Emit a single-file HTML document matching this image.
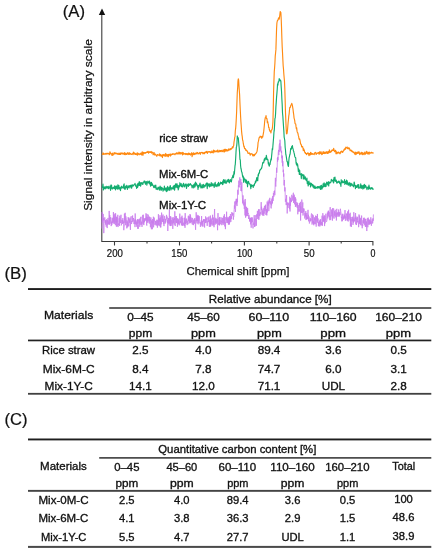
<!DOCTYPE html>
<html><head><meta charset="utf-8"><title>NMR spectra and tables</title>
<style>
html,body{margin:0;padding:0;background:#fff;}
body{width:436px;height:550px;overflow:hidden;}
svg{display:block;}
text{font-family:'Liberation Sans', sans-serif;fill:#111;stroke:#111;stroke-width:0.33px;}
</style></head><body>
<svg width="436" height="550" viewBox="0 0 436 550">
<text x="62.72" y="17.3" font-size="16" textLength="22.25" lengthAdjust="spacingAndGlyphs" style="stroke-width:0.2px">(A)</text>
<g transform="translate(92.4,0) rotate(-90)">
<text x="-210.86" y="0" font-size="11.7" textLength="171.67" lengthAdjust="spacingAndGlyphs" style="stroke-width:0.25px">Signal intensity in arbitrary scale</text>
</g>
<path d="M101.8,14 V241.5 H372.9 V245.5" fill="none" stroke="#3c3c3c" stroke-width="1.1"/>
<path d="M98.8,15 L102,8.6 L105.2,15 Z" fill="#111"/>
<path d="M114.5,241.5 V245.6 M179.5,241.5 V245.6 M244.4,241.5 V245.6 M309.1,241.5 V245.6 M147.0,241.5 V243.5 M211.6,241.5 V243.5 M276.8,241.5 V243.5 M341.2,241.5 V243.5 " stroke="#3c3c3c" stroke-width="1.1"/>
<text x="106.84" y="256.9" font-size="10.6" textLength="16.09" lengthAdjust="spacingAndGlyphs" style="stroke-width:0.2px">200</text>
<text x="171.35" y="256.9" font-size="10.6" textLength="15.98" lengthAdjust="spacingAndGlyphs" style="stroke-width:0.2px">150</text>
<text x="236.97" y="256.9" font-size="10.6" textLength="15.44" lengthAdjust="spacingAndGlyphs" style="stroke-width:0.2px">100</text>
<text x="303.83" y="256.9" font-size="10.6" textLength="10.80" lengthAdjust="spacingAndGlyphs" style="stroke-width:0.2px">50</text>
<text x="370.45" y="256.9" font-size="10.6" textLength="4.95" lengthAdjust="spacingAndGlyphs" style="stroke-width:0.2px">0</text>
<text x="186.45" y="275" font-size="11.3" textLength="102.90" lengthAdjust="spacingAndGlyphs" style="stroke-width:0.25px">Chemical shift [ppm]</text>
<polyline points="102.00,228.55 102.20,212.00 102.40,222.70 102.60,219.15 102.80,219.56 103.00,220.41 103.20,213.91 103.40,220.34 103.60,218.06 103.80,233.13 104.00,221.98 104.20,219.90 104.40,220.15 104.60,218.75 104.80,217.36 105.00,219.75 105.20,222.89 105.40,220.29 105.60,224.59 105.80,220.42 106.00,221.23 106.20,226.70 106.40,223.09 106.60,219.31 106.80,220.47 107.00,223.07 107.20,228.09 107.40,220.15 107.60,220.24 107.80,224.72 108.00,217.92 108.20,220.05 108.40,224.28 108.60,223.19 108.80,221.43 109.00,223.51 109.20,210.91 109.40,224.76 109.60,217.63 109.80,215.07 110.00,222.07 110.20,223.60 110.40,219.47 110.60,217.20 110.80,221.16 111.00,220.88 111.20,226.12 111.40,223.75 111.60,221.76 111.80,225.06 112.00,220.31 112.20,217.72 112.40,223.15 112.60,223.14 112.80,220.27 113.00,218.22 113.20,221.86 113.40,212.06 113.60,223.52 113.80,222.80 114.00,215.13 114.20,221.25 114.40,217.56 114.60,223.75 114.80,213.70 115.00,217.73 115.20,223.58 115.40,225.18 115.60,213.25 115.80,219.22 116.00,222.20 116.20,218.82 116.40,226.74 116.60,216.72 116.80,222.29 117.00,217.23 117.20,226.07 117.40,220.93 117.60,219.67 117.80,214.82 118.00,227.06 118.20,223.71 118.40,223.72 118.60,225.10 118.80,222.26 119.00,218.70 119.20,218.12 119.40,218.12 119.60,225.93 119.80,215.74 120.00,218.85 120.20,219.84 120.40,221.81 120.60,223.07 120.80,216.50 121.00,214.77 121.20,220.98 121.40,225.37 121.60,223.73 121.80,221.78 122.00,219.86 122.20,222.06 122.40,220.12 122.60,223.94 122.80,218.14 123.00,221.48 123.20,220.60 123.40,222.96 123.60,221.81 123.80,230.18 124.00,226.40 124.20,226.39 124.40,213.66 124.60,219.77 124.80,218.81 125.00,222.92 125.20,212.80 125.40,225.23 125.60,224.84 125.80,216.31 126.00,217.48 126.20,218.12 126.40,221.16 126.60,223.31 126.80,228.37 127.00,220.29 127.20,223.76 127.40,221.56 127.60,227.34 127.80,223.67 128.00,225.93 128.20,217.12 128.40,220.31 128.60,218.07 128.80,226.42 129.00,223.37 129.20,219.90 129.40,219.37 129.60,222.74 129.80,218.47 130.00,217.65 130.20,222.73 130.40,229.87 130.60,220.11 130.80,219.00 131.00,216.78 131.20,216.19 131.40,222.89 131.60,224.06 131.80,221.03 132.00,222.20 132.20,221.42 132.40,221.50 132.60,215.51 132.80,219.35 133.00,221.40 133.20,218.18 133.40,219.28 133.60,218.05 133.80,219.80 134.00,224.07 134.20,219.54 134.40,220.45 134.60,223.93 134.80,223.32 135.00,227.10 135.20,213.47 135.40,224.08 135.60,219.26 135.80,221.48 136.00,224.02 136.20,224.90 136.40,224.74 136.60,221.56 136.80,226.79 137.00,219.98 137.20,220.49 137.40,223.88 137.60,219.02 137.80,228.78 138.00,224.67 138.20,228.83 138.40,220.90 138.60,219.62 138.80,221.60 139.00,223.64 139.20,218.89 139.40,222.37 139.60,220.94 139.80,226.82 140.00,218.61 140.20,224.77 140.40,218.68 140.60,217.54 140.80,218.44 141.00,216.72 141.20,221.53 141.40,224.71 141.60,221.59 141.80,223.25 142.00,226.88 142.20,221.97 142.40,221.70 142.60,220.01 142.80,215.21 143.00,223.74 143.20,214.68 143.40,223.35 143.60,220.95 143.80,225.06 144.00,220.76 144.20,218.04 144.40,222.29 144.60,218.98 144.80,220.35 145.00,221.15 145.20,220.52 145.40,220.32 145.60,218.00 145.80,220.32 146.00,213.30 146.20,220.43 146.40,216.69 146.60,225.03 146.80,225.57 147.00,213.98 147.20,221.52 147.40,220.55 147.60,217.23 147.80,222.91 148.00,219.34 148.20,214.64 148.40,220.04 148.60,220.47 148.80,221.38 149.00,216.57 149.20,223.22 149.40,223.65 149.60,216.88 149.80,218.63 150.00,220.71 150.20,218.96 150.40,227.28 150.60,221.75 150.80,217.36 151.00,218.16 151.20,220.79 151.40,229.26 151.60,220.35 151.80,221.45 152.00,222.84 152.20,220.84 152.40,229.19 152.60,219.06 152.80,223.65 153.00,221.55 153.20,223.20 153.40,216.73 153.60,227.32 153.80,220.52 154.00,221.07 154.20,217.58 154.40,218.31 154.60,222.96 154.80,224.48 155.00,223.63 155.20,225.27 155.40,223.48 155.60,221.01 155.80,223.91 156.00,223.03 156.20,220.52 156.40,223.49 156.60,225.50 156.80,221.71 157.00,219.58 157.20,223.44 157.40,227.69 157.60,220.08 157.80,220.50 158.00,220.33 158.20,225.22 158.40,214.20 158.60,222.12 158.80,225.09 159.00,217.86 159.20,226.14 159.40,222.70 159.60,218.79 159.80,221.49 160.00,215.23 160.20,218.71 160.40,227.31 160.60,217.51 160.80,227.36 161.00,220.42 161.20,224.29 161.40,220.86 161.60,212.62 161.80,218.62 162.00,221.36 162.20,216.53 162.40,215.81 162.60,221.97 162.80,218.31 163.00,214.54 163.20,218.17 163.40,223.73 163.60,218.92 163.80,223.98 164.00,226.11 164.20,220.72 164.40,216.53 164.60,215.90 164.80,220.49 165.00,223.75 165.20,221.54 165.40,222.54 165.60,218.97 165.80,221.64 166.00,218.86 166.20,219.38 166.40,215.89 166.60,214.88 166.80,218.80 167.00,216.54 167.20,217.08 167.40,222.94 167.60,220.13 167.80,231.01 168.00,223.85 168.20,218.23 168.40,223.31 168.60,221.79 168.80,218.04 169.00,224.47 169.20,217.71 169.40,209.49 169.60,223.36 169.80,218.28 170.00,225.85 170.20,218.16 170.40,216.25 170.60,226.07 170.80,216.63 171.00,221.23 171.20,225.72 171.40,220.91 171.60,220.21 171.80,220.87 172.00,223.52 172.20,217.60 172.40,222.70 172.60,222.58 172.80,228.90 173.00,219.29 173.20,217.21 173.40,223.15 173.60,219.07 173.80,221.54 174.00,220.98 174.20,224.71 174.40,218.14 174.60,220.17 174.80,211.31 175.00,217.30 175.20,226.03 175.40,218.05 175.60,217.97 175.80,216.12 176.00,222.59 176.20,221.14 176.40,216.23 176.60,222.90 176.80,221.44 177.00,223.21 177.20,218.19 177.40,226.76 177.60,221.98 177.80,220.08 178.00,218.63 178.20,219.62 178.40,223.59 178.60,219.53 178.80,224.38 179.00,222.59 179.20,225.35 179.40,223.43 179.60,220.27 179.80,213.63 180.00,221.57 180.20,223.34 180.40,221.09 180.60,222.50 180.80,218.80 181.00,219.13 181.20,217.11 181.40,225.40 181.60,221.07 181.80,218.73 182.00,215.71 182.20,219.95 182.40,225.69 182.60,222.16 182.80,217.89 183.00,225.65 183.20,225.64 183.40,224.03 183.60,223.34 183.80,224.66 184.00,222.46 184.20,223.29 184.40,217.69 184.60,225.90 184.80,221.33 185.00,227.79 185.20,213.15 185.40,223.04 185.60,224.03 185.80,219.27 186.00,222.13 186.20,223.19 186.40,222.58 186.60,218.56 186.80,219.99 187.00,224.17 187.20,225.10 187.40,220.86 187.60,220.78 187.80,221.22 188.00,224.24 188.20,216.71 188.40,215.72 188.60,220.95 188.80,216.52 189.00,218.39 189.20,220.81 189.40,222.24 189.60,216.64 189.80,223.39 190.00,214.11 190.20,222.46 190.40,214.82 190.60,215.91 190.80,222.81 191.00,219.04 191.20,217.64 191.40,218.90 191.60,222.17 191.80,220.31 192.00,220.39 192.20,224.30 192.40,217.92 192.60,218.80 192.80,218.62 193.00,224.71 193.20,224.07 193.40,225.13 193.60,220.38 193.80,219.94 194.00,223.57 194.20,219.08 194.40,223.49 194.60,223.11 194.80,217.99 195.00,220.20 195.20,220.07 195.40,226.74 195.60,229.82 195.80,220.14 196.00,220.55 196.20,212.29 196.40,221.26 196.60,220.47 196.80,216.64 197.00,223.33 197.20,214.86 197.40,219.73 197.60,221.00 197.80,216.00 198.00,223.58 198.20,224.30 198.40,215.51 198.60,215.43 198.80,222.67 199.00,220.39 199.20,216.14 199.40,219.44 199.60,220.11 199.80,219.99 200.00,223.48 200.20,221.88 200.40,226.87 200.60,225.45 200.80,222.95 201.00,224.38 201.20,225.27 201.40,223.05 201.60,216.10 201.80,223.61 202.00,220.78 202.20,226.36 202.40,220.87 202.60,222.43 202.80,221.73 203.00,226.60 203.20,221.20 203.40,219.60 203.60,221.69 203.80,219.00 204.00,221.17 204.20,220.57 204.40,221.58 204.60,227.54 204.80,219.16 205.00,220.76 205.20,219.92 205.40,223.07 205.60,216.40 205.80,218.17 206.00,220.53 206.20,222.65 206.40,220.53 206.60,218.90 206.80,217.59 207.00,222.57 207.20,225.93 207.40,221.91 207.60,221.43 207.80,222.36 208.00,217.38 208.20,219.66 208.40,219.83 208.60,221.87 208.80,220.70 209.00,216.44 209.20,224.88 209.40,226.94 209.60,219.90 209.80,222.30 210.00,221.83 210.20,223.70 210.40,215.56 210.60,226.70 210.80,219.22 211.00,225.46 211.20,221.21 211.40,219.53 211.60,220.43 211.80,224.17 212.00,217.84 212.20,219.60 212.40,219.22 212.60,214.79 212.80,225.65 213.00,223.06 213.20,220.90 213.40,225.17 213.60,217.54 213.80,220.73 214.00,227.21 214.20,224.52 214.40,212.99 214.60,209.00 214.80,217.26 215.00,224.82 215.20,219.30 215.40,220.22 215.60,223.19 215.80,217.81 216.00,221.76 216.20,223.84 216.40,222.67 216.60,222.41 216.80,218.82 217.00,222.83 217.20,219.43 217.40,225.67 217.60,230.22 217.80,218.29 218.00,213.12 218.20,219.41 218.40,222.30 218.60,224.71 218.80,224.81 219.00,218.09 219.20,218.05 219.40,225.46 219.60,216.96 219.80,224.80 220.00,220.05 220.20,223.62 220.40,223.39 220.60,223.63 220.80,223.78 221.00,217.25 221.20,221.87 221.40,220.84 221.60,221.89 221.80,225.20 222.00,219.77 222.20,218.17 222.40,218.10 222.60,219.59 222.80,223.40 223.00,217.74 223.20,224.83 223.40,221.69 223.60,219.81 223.80,215.81 224.00,221.47 224.20,223.06 224.40,214.20 224.60,224.83 224.80,226.45 225.00,221.72 225.20,222.25 225.40,229.14 225.60,224.86 225.80,217.16 226.00,220.29 226.20,219.74 226.40,219.72 226.60,211.70 226.80,222.88 227.00,217.81 227.20,220.62 227.40,219.48 227.60,223.03 227.80,218.75 228.00,216.87 228.20,221.57 228.40,224.62 228.60,218.32 228.80,224.30 229.00,220.21 229.20,217.24 229.40,224.54 229.60,215.99 229.80,222.46 230.00,216.89 230.20,220.18 230.40,213.98 230.60,215.27 230.80,221.98 231.00,218.68 231.20,217.97 231.40,216.03 231.60,218.97 231.80,212.04 232.00,212.72 232.20,215.82 232.40,213.00 232.60,213.06 232.80,214.88 233.00,214.17 233.20,213.37 233.40,219.65 233.60,216.76 233.80,216.99 234.00,211.90 234.20,209.56 234.40,205.43 234.60,208.62 234.80,201.50 235.00,205.98 235.20,209.85 235.40,211.90 235.60,208.48 235.80,200.81 236.00,204.57 236.20,198.84 236.40,203.52 236.60,199.02 236.80,201.25 237.00,206.05 237.20,198.65 237.40,202.25 237.60,193.02 237.80,189.78 238.00,194.44 238.20,194.65 238.40,185.43 238.60,186.87 238.80,180.61 239.00,184.24 239.20,187.38 239.40,183.17 239.60,180.83 239.80,177.35 240.00,183.43 240.20,184.87 240.40,184.34 240.60,183.66 240.80,178.99 241.00,190.99 241.20,185.68 241.40,186.70 241.60,191.26 241.80,182.21 242.00,191.45 242.20,193.34 242.40,197.55 242.60,203.38 242.80,202.25 243.00,195.40 243.20,201.81 243.40,204.71 243.60,205.35 243.80,200.98 244.00,200.30 244.20,208.91 244.40,208.75 244.60,207.97 244.80,202.33 245.00,215.39 245.20,198.98 245.40,208.49 245.60,217.68 245.80,209.90 246.00,211.61 246.20,206.81 246.40,216.22 246.60,206.95 246.80,212.80 247.00,212.66 247.20,208.70 247.40,216.01 247.60,208.09 247.80,211.15 248.00,213.96 248.20,213.08 248.40,216.78 248.60,218.98 248.80,215.17 249.00,214.86 249.20,215.55 249.40,216.69 249.60,221.51 249.80,218.39 250.00,221.20 250.20,219.94 250.40,217.74 250.60,224.36 250.80,217.94 251.00,222.08 251.20,227.73 251.40,218.71 251.60,222.64 251.80,217.25 252.00,221.17 252.20,217.61 252.40,221.65 252.60,220.94 252.80,223.27 253.00,228.39 253.20,223.57 253.40,224.77 253.60,222.05 253.80,221.16 254.00,218.83 254.20,215.13 254.40,221.63 254.60,227.00 254.80,222.59 255.00,218.69 255.20,226.27 255.40,218.49 255.60,217.53 255.80,215.09 256.00,215.70 256.20,217.97 256.40,225.75 256.60,217.50 256.80,214.23 257.00,215.46 257.20,216.54 257.40,210.88 257.60,217.21 257.80,219.00 258.00,217.36 258.20,218.10 258.40,211.04 258.60,209.33 258.80,219.84 259.00,218.94 259.20,209.25 259.40,215.34 259.60,214.49 259.80,216.16 260.00,214.76 260.20,212.01 260.40,214.33 260.60,214.01 260.80,213.08 261.00,206.41 261.20,202.11 261.40,209.87 261.60,206.65 261.80,213.27 262.00,214.76 262.20,212.95 262.40,210.49 262.60,211.90 262.80,215.67 263.00,208.67 263.20,214.43 263.40,213.48 263.60,211.69 263.80,215.79 264.00,207.80 264.20,213.59 264.40,206.66 264.60,207.05 264.80,205.81 265.00,211.03 265.20,205.84 265.40,209.21 265.60,204.72 265.80,212.44 266.00,215.00 266.20,209.00 266.40,213.90 266.60,209.81 266.80,215.41 267.00,207.78 267.20,201.58 267.40,212.42 267.60,206.42 267.80,202.97 268.00,204.16 268.20,200.49 268.40,205.56 268.60,202.12 268.80,211.13 269.00,207.99 269.20,199.42 269.40,199.76 269.60,202.94 269.80,197.84 270.00,204.14 270.20,204.15 270.40,201.28 270.60,201.83 270.80,205.33 271.00,208.37 271.20,208.34 271.40,202.77 271.60,205.40 271.80,199.32 272.00,203.10 272.20,197.79 272.40,203.47 272.60,195.98 272.80,196.53 273.00,199.46 273.20,200.85 273.40,192.91 273.60,195.29 273.80,196.73 274.00,196.00 274.20,191.01 274.40,193.14 274.60,190.53 274.80,195.19 275.00,190.72 275.20,182.49 275.40,177.83 275.60,184.55 275.80,186.56 276.00,180.75 276.20,180.91 276.40,173.46 276.60,167.69 276.80,172.70 277.00,167.84 277.20,167.57 277.40,157.99 277.60,161.72 277.80,156.91 278.00,160.15 278.20,153.29 278.40,151.41 278.60,149.85 278.80,155.05 279.00,149.38 279.20,145.61 279.40,144.02 279.60,143.37 279.80,151.89 280.00,139.71 280.20,142.97 280.40,148.34 280.60,150.58 280.80,146.35 281.00,150.45 281.20,151.25 281.40,153.04 281.60,150.77 281.80,158.26 282.00,155.30 282.20,162.69 282.40,156.02 282.60,166.23 282.80,161.07 283.00,162.69 283.20,172.20 283.40,169.74 283.60,176.64 283.80,173.47 284.00,185.38 284.20,181.87 284.40,179.94 284.60,186.77 284.80,191.36 285.00,187.38 285.20,194.05 285.40,201.76 285.60,199.79 285.80,198.89 286.00,199.03 286.20,205.12 286.40,199.26 286.60,195.09 286.80,204.49 287.00,203.30 287.20,213.43 287.40,207.53 287.60,203.27 287.80,202.36 288.00,208.03 288.20,202.88 288.40,203.37 288.60,204.73 288.80,204.95 289.00,204.56 289.20,204.22 289.40,208.11 289.60,209.18 289.80,196.71 290.00,211.50 290.20,202.23 290.40,205.76 290.60,198.14 290.80,201.50 291.00,200.65 291.20,199.86 291.40,202.13 291.60,201.01 291.80,194.84 292.00,197.84 292.20,200.74 292.40,200.44 292.60,196.61 292.80,196.68 293.00,197.02 293.20,193.50 293.40,192.75 293.60,202.97 293.80,195.86 294.00,197.61 294.20,194.67 294.40,202.30 294.60,204.34 294.80,197.76 295.00,201.00 295.20,197.07 295.40,206.81 295.60,204.44 295.80,198.70 296.00,206.76 296.20,204.09 296.40,204.84 296.60,205.21 296.80,202.10 297.00,203.14 297.20,207.87 297.40,205.95 297.60,203.17 297.80,214.27 298.00,206.50 298.20,205.48 298.40,205.20 298.60,210.40 298.80,211.61 299.00,209.16 299.20,211.56 299.40,203.18 299.60,207.37 299.80,207.14 300.00,208.98 300.20,210.83 300.40,201.85 300.60,220.55 300.80,206.29 301.00,210.77 301.20,212.62 301.40,212.83 301.60,210.76 301.80,199.55 302.00,206.26 302.20,213.06 302.40,207.18 302.60,206.89 302.80,202.42 303.00,215.52 303.20,213.23 303.40,208.45 303.60,211.49 303.80,211.91 304.00,208.58 304.20,211.95 304.40,214.19 304.60,215.61 304.80,218.52 305.00,214.42 305.20,212.99 305.40,216.44 305.60,213.04 305.80,211.12 306.00,220.04 306.20,214.83 306.40,216.89 306.60,219.03 306.80,212.91 307.00,219.38 307.20,218.85 307.40,217.03 307.60,218.95 307.80,214.95 308.00,209.87 308.20,216.92 308.40,214.79 308.60,221.31 308.80,219.26 309.00,216.51 309.20,218.70 309.40,223.51 309.60,222.83 309.80,220.17 310.00,220.49 310.20,218.03 310.40,218.65 310.60,221.33 310.80,218.87 311.00,220.46 311.20,215.44 311.40,213.53 311.60,213.50 311.80,218.12 312.00,224.56 312.20,224.12 312.40,216.34 312.60,214.41 312.80,222.95 313.00,221.84 313.20,215.33 313.40,224.15 313.60,221.05 313.80,225.26 314.00,221.81 314.20,223.86 314.40,221.89 314.60,217.38 314.80,220.05 315.00,218.52 315.20,224.02 315.40,217.52 315.60,215.65 315.80,223.70 316.00,225.43 316.20,226.58 316.40,225.37 316.60,216.06 316.80,219.04 317.00,219.63 317.20,221.57 317.40,213.95 317.60,221.72 317.80,222.79 318.00,218.41 318.20,222.30 318.40,226.20 318.60,222.10 318.80,225.77 319.00,225.64 319.20,223.48 319.40,223.40 319.60,220.69 319.80,226.51 320.00,220.34 320.20,219.52 320.40,224.55 320.60,219.35 320.80,223.44 321.00,225.64 321.20,222.04 321.40,222.04 321.60,224.85 321.80,224.14 322.00,215.75 322.20,216.44 322.40,225.80 322.60,222.26 322.80,213.19 323.00,215.66 323.20,220.43 323.40,216.64 323.60,221.67 323.80,220.08 324.00,221.37 324.20,215.21 324.40,221.47 324.60,226.09 324.80,215.99 325.00,223.40 325.20,222.02 325.40,220.62 325.60,217.89 325.80,213.77 326.00,214.63 326.20,220.38 326.40,221.01 326.60,221.74 326.80,220.66 327.00,220.34 327.20,215.40 327.40,212.49 327.60,217.45 327.80,218.39 328.00,216.77 328.20,210.86 328.40,214.33 328.60,210.75 328.80,216.46 329.00,212.02 329.20,215.06 329.40,216.69 329.60,215.89 329.80,220.19 330.00,211.16 330.20,207.14 330.40,218.28 330.60,219.80 330.80,219.78 331.00,215.53 331.20,216.33 331.40,214.72 331.60,209.50 331.80,212.00 332.00,215.74 332.20,211.78 332.40,220.63 332.60,208.13 332.80,212.03 333.00,217.51 333.20,211.25 333.40,209.30 333.60,208.42 333.80,210.65 334.00,218.65 334.20,214.65 334.40,215.01 334.60,211.26 334.80,216.16 335.00,213.50 335.20,209.80 335.40,211.50 335.60,213.87 335.80,217.37 336.00,212.96 336.20,215.00 336.40,220.50 336.60,210.38 336.80,208.82 337.00,216.87 337.20,214.95 337.40,213.06 337.60,214.41 337.80,212.33 338.00,215.43 338.20,212.42 338.40,216.56 338.60,209.53 338.80,210.87 339.00,214.29 339.20,212.25 339.40,216.51 339.60,213.93 339.80,212.20 340.00,214.98 340.20,212.40 340.40,208.77 340.60,210.37 340.80,211.65 341.00,212.92 341.20,215.05 341.40,218.06 341.60,216.85 341.80,221.35 342.00,219.62 342.20,214.43 342.40,221.13 342.60,219.52 342.80,213.72 343.00,216.55 343.20,219.45 343.40,216.46 343.60,219.33 343.80,217.17 344.00,218.35 344.20,214.75 344.40,217.33 344.60,214.72 344.80,218.54 345.00,210.09 345.20,217.44 345.40,220.80 345.60,218.46 345.80,216.35 346.00,218.45 346.20,213.53 346.40,213.65 346.60,215.43 346.80,216.26 347.00,220.34 347.20,213.72 347.40,220.62 347.60,211.43 347.80,214.33 348.00,217.11 348.20,221.48 348.40,215.18 348.60,209.75 348.80,219.06 349.00,217.52 349.20,213.80 349.40,214.02 349.60,215.35 349.80,218.28 350.00,220.39 350.20,212.76 350.40,226.39 350.60,218.09 350.80,216.96 351.00,220.80 351.20,218.84 351.40,226.93 351.60,222.54 351.80,217.34 352.00,217.33 352.20,217.01 352.40,217.64 352.60,221.36 352.80,216.68 353.00,224.88 353.20,218.84 353.40,218.68 353.60,222.68 353.80,212.20 354.00,216.01 354.20,221.59 354.40,219.54 354.60,219.51 354.80,221.03 355.00,217.49 355.20,219.09 355.40,214.85 355.60,213.05 355.80,224.41 356.00,216.55 356.20,217.38 356.40,225.03 356.60,223.87 356.80,218.21 357.00,218.24 357.20,219.90 357.40,216.81 357.60,222.27 357.80,220.87 358.00,220.86 358.20,223.15 358.40,223.07 358.60,227.16 358.80,226.04 359.00,214.47 359.20,223.90 359.40,216.69 359.60,215.62 359.80,223.36 360.00,218.32 360.20,219.75 360.40,224.78 360.60,218.58 360.80,217.79 361.00,222.23 361.20,225.49 361.40,223.03 361.60,215.57 361.80,218.85 362.00,220.69 362.20,228.22 362.40,224.52 362.60,224.40 362.80,225.70 363.00,220.28 363.20,223.15 363.40,223.22 363.60,217.96 363.80,221.45 364.00,223.56 364.20,217.67 364.40,224.49 364.60,224.33 364.80,225.34 365.00,218.85 365.20,222.04 365.40,226.91 365.60,224.55 365.80,218.87 366.00,222.54 366.20,226.86 366.40,221.49 366.60,223.15 366.80,231.04 367.00,221.68 367.20,221.44 367.40,218.22 367.60,219.48 367.80,227.22 368.00,221.38 368.20,217.63 368.40,218.56 368.60,221.94 368.80,224.69 369.00,219.27 369.20,224.52 369.40,220.21 369.60,223.26 369.80,223.85 370.00,224.18 370.20,220.44 370.40,221.39 370.60,223.83 370.80,217.35 371.00,222.63 371.20,223.86 371.40,225.77 371.60,221.88 371.80,221.36 372.00,222.53 372.20,219.38 372.40,221.27 372.60,223.49 372.80,223.03 373.00,218.26 373.20,220.84 373.40,214.40" fill="none" stroke="#c97cec" stroke-width="0.8" stroke-linejoin="round"/>
<polyline points="102.00,187.76 102.33,186.77 102.66,186.92 102.99,184.08 103.32,190.02 103.65,189.10 103.98,187.04 104.31,188.58 104.64,187.89 104.97,186.72 105.30,188.86 105.63,187.05 105.96,187.03 106.29,186.37 106.62,188.12 106.95,187.34 107.28,188.24 107.61,186.62 107.94,187.65 108.27,186.22 108.60,188.64 108.93,187.73 109.26,187.92 109.59,188.03 109.92,186.04 110.25,188.55 110.58,190.33 110.91,185.15 111.24,185.02 111.57,185.33 111.90,188.61 112.23,187.61 112.56,188.94 112.89,188.44 113.22,187.71 113.55,187.81 113.88,187.17 114.21,188.62 114.54,185.82 114.87,186.81 115.20,187.74 115.53,189.92 115.86,186.32 116.19,185.88 116.52,186.59 116.85,188.74 117.18,187.04 117.51,189.22 117.84,184.74 118.17,188.94 118.50,188.80 118.83,185.36 119.16,187.56 119.49,189.04 119.82,187.46 120.15,188.73 120.48,190.65 120.81,187.70 121.14,186.92 121.47,186.22 121.80,188.20 122.13,187.01 122.46,187.03 122.79,187.12 123.12,188.17 123.45,185.76 123.78,185.10 124.11,183.82 124.44,188.90 124.77,187.31 125.10,189.31 125.43,187.17 125.76,186.12 126.09,187.80 126.42,187.00 126.75,185.32 127.08,185.80 127.41,189.47 127.74,187.45 128.07,187.49 128.40,186.47 128.73,185.84 129.06,188.00 129.39,186.54 129.72,185.57 130.05,186.38 130.38,185.23 130.71,186.70 131.04,187.95 131.37,185.13 131.70,188.23 132.03,185.22 132.36,186.30 132.69,184.84 133.02,185.63 133.35,185.93 133.68,185.18 134.01,184.73 134.34,184.70 134.67,184.42 135.00,183.30 135.33,185.06 135.66,185.91 135.99,186.54 136.32,186.08 136.65,188.53 136.98,185.44 137.31,184.26 137.64,187.42 137.97,183.23 138.30,185.96 138.63,183.16 138.96,184.89 139.29,181.54 139.62,185.45 139.95,183.87 140.28,182.63 140.61,186.24 140.94,184.86 141.27,183.76 141.60,182.56 141.93,183.46 142.26,183.20 142.59,184.35 142.92,184.35 143.25,182.20 143.58,182.26 143.91,182.17 144.24,180.93 144.57,181.89 144.90,182.50 145.23,183.51 145.56,184.31 145.89,181.27 146.22,183.12 146.55,181.70 146.88,185.21 147.21,182.24 147.54,183.05 147.87,181.12 148.20,181.40 148.53,182.94 148.86,182.27 149.19,183.47 149.52,180.97 149.85,184.27 150.18,182.28 150.51,186.14 150.84,183.51 151.17,185.63 151.50,182.36 151.83,185.16 152.16,183.60 152.49,184.46 152.82,185.49 153.15,185.34 153.48,186.48 153.81,187.48 154.14,187.67 154.47,186.94 154.80,185.43 155.13,186.48 155.46,187.56 155.79,185.05 156.12,189.23 156.45,187.94 156.78,187.97 157.11,189.70 157.44,189.35 157.77,188.77 158.10,187.10 158.43,188.98 158.76,189.07 159.09,187.38 159.42,190.11 159.75,189.40 160.08,185.96 160.41,188.92 160.74,187.01 161.07,190.39 161.40,189.96 161.73,187.31 162.06,187.64 162.39,189.04 162.72,188.58 163.05,191.06 163.38,189.98 163.71,188.56 164.04,189.78 164.37,186.13 164.70,189.42 165.03,190.21 165.36,188.75 165.69,188.00 166.02,189.79 166.35,191.74 166.68,189.27 167.01,187.39 167.34,190.95 167.67,186.26 168.00,189.55 168.33,187.98 168.66,190.04 168.99,187.49 169.32,190.46 169.65,188.96 169.98,186.05 170.31,185.63 170.64,187.88 170.97,190.05 171.30,188.34 171.63,188.18 171.96,187.68 172.29,188.96 172.62,188.34 172.95,188.08 173.28,186.17 173.61,189.06 173.94,189.14 174.27,185.25 174.60,190.13 174.93,187.75 175.26,185.90 175.59,183.78 175.92,187.23 176.25,186.98 176.58,185.27 176.91,183.54 177.24,187.58 177.57,185.16 177.90,185.31 178.23,189.94 178.56,188.92 178.89,187.26 179.22,185.28 179.55,186.81 179.88,182.70 180.21,186.03 180.54,184.80 180.87,184.06 181.20,183.63 181.53,186.58 181.86,185.96 182.19,186.05 182.52,187.00 182.85,184.63 183.18,184.08 183.51,183.32 183.84,185.34 184.17,186.87 184.50,185.59 184.83,186.70 185.16,184.15 185.49,185.14 185.82,184.73 186.15,184.05 186.48,188.40 186.81,186.99 187.14,184.73 187.47,184.73 187.80,185.72 188.13,183.78 188.46,186.41 188.79,183.99 189.12,185.28 189.45,184.37 189.78,185.13 190.11,183.94 190.44,183.60 190.77,184.45 191.10,184.85 191.43,185.39 191.76,185.90 192.09,187.94 192.42,186.94 192.75,185.45 193.08,186.82 193.41,184.84 193.74,187.83 194.07,186.57 194.40,183.90 194.73,186.86 195.06,186.94 195.39,182.04 195.72,184.75 196.05,185.14 196.38,183.10 196.71,184.31 197.04,184.47 197.37,186.51 197.70,186.22 198.03,189.48 198.36,185.25 198.69,187.41 199.02,185.91 199.35,186.18 199.68,184.18 200.01,183.12 200.34,184.73 200.67,186.86 201.00,188.01 201.33,186.63 201.66,186.48 201.99,184.60 202.32,187.91 202.65,187.64 202.98,185.00 203.31,185.67 203.64,184.32 203.97,187.75 204.30,186.25 204.63,185.53 204.96,186.22 205.29,186.25 205.62,185.03 205.95,183.85 206.28,183.77 206.61,183.11 206.94,186.16 207.27,188.59 207.60,183.08 207.93,185.63 208.26,185.98 208.59,184.00 208.92,185.63 209.25,183.78 209.58,186.97 209.91,184.42 210.24,185.36 210.57,186.15 210.90,184.55 211.23,182.61 211.56,184.34 211.89,186.12 212.22,184.90 212.55,185.30 212.88,183.43 213.21,185.11 213.54,185.89 213.87,184.88 214.20,187.46 214.53,184.46 214.86,183.26 215.19,182.41 215.52,186.25 215.85,184.50 216.18,185.95 216.51,185.12 216.84,186.70 217.17,186.13 217.50,183.77 217.83,184.61 218.16,185.68 218.49,182.35 218.82,186.04 219.15,185.62 219.48,185.22 219.81,183.48 220.14,184.10 220.47,182.02 220.80,183.58 221.13,182.58 221.46,183.43 221.79,182.52 222.12,183.51 222.45,184.66 222.78,181.08 223.11,184.10 223.44,179.91 223.77,179.57 224.10,182.32 224.43,182.39 224.76,182.90 225.09,179.86 225.42,181.97 225.75,182.11 226.08,183.55 226.41,181.51 226.74,182.25 227.07,179.99 227.40,180.95 227.73,180.43 228.06,181.89 228.39,179.38 228.72,179.45 229.05,181.29 229.38,182.86 229.71,180.79 230.04,180.58 230.37,179.56 230.70,181.45 231.03,180.53 231.36,182.02 231.69,179.80 232.02,177.59 232.35,177.53 232.68,176.23 233.01,175.04 233.34,177.65 233.67,175.91 234.00,171.64 234.33,174.16 234.66,170.00 234.99,165.93 235.32,164.05 235.65,158.65 235.98,152.82 236.31,147.18 236.64,146.39 236.97,143.12 237.30,135.95 237.63,138.20 237.96,137.71 238.29,137.84 238.62,142.00 238.95,145.53 239.28,148.62 239.61,152.98 239.94,159.48 240.27,159.67 240.60,165.71 240.93,168.47 241.26,169.49 241.59,171.87 241.92,172.18 242.25,174.17 242.58,176.21 242.91,177.31 243.24,176.15 243.57,182.17 243.90,177.56 244.23,179.01 244.56,178.95 244.89,179.12 245.22,181.90 245.55,179.80 245.88,182.72 246.21,182.85 246.54,180.19 246.87,183.51 247.20,181.55 247.53,186.68 247.86,182.70 248.19,182.30 248.52,181.31 248.85,182.53 249.18,183.88 249.51,183.68 249.84,183.77 250.17,184.92 250.50,186.00 250.83,188.67 251.16,184.56 251.49,186.39 251.82,185.95 252.15,185.16 252.48,185.38 252.81,185.62 253.14,187.52 253.47,185.78 253.80,184.75 254.13,185.75 254.46,184.63 254.79,183.24 255.12,183.38 255.45,180.98 255.78,182.32 256.11,181.43 256.44,179.47 256.77,177.53 257.10,180.50 257.43,177.60 257.76,180.80 258.09,174.66 258.42,175.83 258.75,173.10 259.08,173.17 259.41,173.14 259.74,170.05 260.07,170.23 260.40,169.80 260.73,168.96 261.06,168.88 261.39,168.74 261.72,167.76 262.05,166.26 262.38,164.68 262.71,162.81 263.04,162.55 263.37,162.02 263.70,162.92 264.03,160.69 264.36,158.75 264.69,160.74 265.02,158.22 265.35,157.87 265.68,158.37 266.01,159.26 266.34,155.32 266.67,157.39 267.00,159.60 267.33,159.33 267.66,159.19 267.99,160.22 268.32,163.87 268.65,162.65 268.98,165.50 269.31,166.11 269.64,164.04 269.97,164.54 270.30,162.37 270.63,161.04 270.96,158.85 271.29,159.88 271.62,155.86 271.95,152.61 272.28,148.49 272.61,149.59 272.94,145.45 273.27,141.54 273.60,137.63 273.93,132.42 274.26,130.20 274.59,125.31 274.92,118.48 275.25,118.02 275.58,113.44 275.91,106.62 276.24,102.12 276.57,97.11 276.90,93.37 277.23,89.31 277.56,83.80 277.89,85.28 278.22,81.72 278.55,82.05 278.88,81.25 279.21,78.67 279.54,79.28 279.87,80.06 280.20,80.67 280.53,80.22 280.86,81.20 281.19,86.66 281.52,91.22 281.85,98.72 282.18,104.35 282.51,113.05 282.84,116.25 283.17,121.24 283.50,126.23 283.83,130.89 284.16,137.11 284.49,138.76 284.82,140.74 285.15,147.20 285.48,150.00 285.81,154.42 286.14,155.60 286.47,157.95 286.80,160.25 287.13,161.76 287.46,161.70 287.79,164.59 288.12,165.98 288.45,166.29 288.78,161.21 289.11,157.75 289.44,156.58 289.77,154.57 290.10,154.08 290.43,150.82 290.76,148.43 291.09,149.22 291.42,148.96 291.75,146.24 292.08,147.56 292.41,145.68 292.74,148.42 293.07,148.72 293.40,150.76 293.73,151.48 294.06,152.95 294.39,154.14 294.72,156.20 295.05,157.16 295.38,157.43 295.71,157.81 296.04,162.74 296.37,164.35 296.70,163.00 297.03,165.59 297.36,163.79 297.69,164.89 298.02,167.84 298.35,171.39 298.68,168.91 299.01,170.18 299.34,174.46 299.67,170.28 300.00,174.40 300.33,174.61 300.66,174.00 300.99,174.86 301.32,178.56 301.65,173.59 301.98,175.04 302.31,175.48 302.64,175.18 302.97,174.60 303.30,179.05 303.63,177.46 303.96,175.02 304.29,176.84 304.62,178.73 304.95,179.06 305.28,176.82 305.61,179.04 305.94,179.87 306.27,180.40 306.60,180.74 306.93,177.98 307.26,183.46 307.59,181.54 307.92,184.16 308.25,186.04 308.58,182.21 308.91,181.11 309.24,184.44 309.57,183.37 309.90,183.36 310.23,182.89 310.56,187.03 310.89,184.34 311.22,183.25 311.55,184.79 311.88,183.97 312.21,185.97 312.54,185.33 312.87,184.59 313.20,187.06 313.53,185.47 313.86,187.52 314.19,188.41 314.52,186.27 314.85,185.99 315.18,187.28 315.51,188.36 315.84,187.20 316.17,187.48 316.50,187.31 316.83,187.84 317.16,188.33 317.49,186.49 317.82,186.82 318.15,187.56 318.48,186.55 318.81,187.63 319.14,188.14 319.47,187.29 319.80,186.39 320.13,186.05 320.46,189.48 320.79,188.13 321.12,185.21 321.45,185.46 321.78,189.12 322.11,188.47 322.44,186.38 322.77,187.67 323.10,183.82 323.43,185.75 323.76,186.64 324.09,182.86 324.42,184.21 324.75,186.22 325.08,186.52 325.41,183.91 325.74,184.93 326.07,186.55 326.40,183.55 326.73,182.00 327.06,183.56 327.39,182.87 327.72,185.03 328.05,183.23 328.38,181.70 328.71,186.00 329.04,181.78 329.37,182.98 329.70,183.10 330.03,183.09 330.36,182.06 330.69,182.47 331.02,181.39 331.35,179.34 331.68,180.87 332.01,180.76 332.34,180.67 332.67,181.00 333.00,179.85 333.33,182.51 333.66,182.81 333.99,177.52 334.32,180.63 334.65,179.66 334.98,177.07 335.31,181.37 335.64,180.03 335.97,180.49 336.30,180.23 336.63,182.80 336.96,183.16 337.29,181.96 337.62,182.69 337.95,181.70 338.28,182.19 338.61,181.08 338.94,182.29 339.27,181.34 339.60,182.95 339.93,183.65 340.26,182.97 340.59,184.24 340.92,186.38 341.25,179.70 341.58,182.70 341.91,181.92 342.24,182.10 342.57,180.86 342.90,182.86 343.23,182.45 343.56,181.95 343.89,182.50 344.22,182.05 344.55,179.62 344.88,184.43 345.21,182.52 345.54,181.64 345.87,183.43 346.20,182.10 346.53,180.02 346.86,184.34 347.19,180.79 347.52,182.87 347.85,183.39 348.18,185.17 348.51,185.01 348.84,183.66 349.17,182.44 349.50,183.02 349.83,185.22 350.16,186.31 350.49,184.68 350.82,183.13 351.15,185.59 351.48,183.75 351.81,183.82 352.14,184.13 352.47,185.47 352.80,185.15 353.13,186.28 353.46,186.82 353.79,185.84 354.12,181.97 354.45,182.96 354.78,185.66 355.11,185.44 355.44,188.65 355.77,185.68 356.10,185.60 356.43,187.23 356.76,187.50 357.09,185.77 357.42,186.86 357.75,184.70 358.08,185.06 358.41,188.19 358.74,184.57 359.07,187.91 359.40,187.65 359.73,187.84 360.06,188.10 360.39,187.67 360.72,183.93 361.05,185.57 361.38,186.18 361.71,188.34 362.04,185.52 362.37,186.15 362.70,186.67 363.03,189.05 363.36,185.22 363.69,185.38 364.02,188.18 364.35,184.36 364.68,187.83 365.01,186.76 365.34,185.22 365.67,186.88 366.00,186.10 366.33,187.77 366.66,188.08 366.99,189.69 367.32,187.63 367.65,187.82 367.98,186.91 368.31,187.72 368.64,189.26 368.97,185.13 369.30,188.78 369.63,187.14 369.96,188.03 370.29,188.42 370.62,189.19 370.95,188.37 371.28,187.52 371.61,188.54 371.94,188.16 372.27,187.89 372.60,188.50 372.93,189.47 373.26,188.48" fill="none" stroke="#14ad70" stroke-width="1.15" stroke-linejoin="round"/>
<polyline points="102.00,154.06 102.33,154.42 102.66,154.05 102.99,152.82 103.32,154.48 103.65,154.13 103.98,153.40 104.31,154.24 104.64,154.07 104.97,154.02 105.30,153.82 105.63,154.21 105.96,153.25 106.29,153.68 106.62,153.44 106.95,154.25 107.28,153.83 107.61,153.58 107.94,153.21 108.27,153.61 108.60,153.81 108.93,153.59 109.26,154.77 109.59,154.56 109.92,151.77 110.25,152.38 110.58,153.67 110.91,153.48 111.24,153.96 111.57,153.96 111.90,155.39 112.23,152.97 112.56,153.52 112.89,155.33 113.22,154.29 113.55,154.30 113.88,153.41 114.21,152.56 114.54,153.93 114.87,153.88 115.20,152.88 115.53,153.29 115.86,153.75 116.19,153.09 116.52,153.73 116.85,153.87 117.18,153.83 117.51,153.42 117.84,154.25 118.17,154.47 118.50,154.04 118.83,153.19 119.16,154.35 119.49,153.42 119.82,154.46 120.15,153.00 120.48,154.49 120.81,153.78 121.14,152.86 121.47,153.56 121.80,153.84 122.13,154.00 122.46,153.06 122.79,152.97 123.12,153.95 123.45,153.45 123.78,153.98 124.11,154.37 124.44,152.56 124.77,153.99 125.10,154.72 125.43,153.58 125.76,153.19 126.09,154.36 126.42,153.99 126.75,154.47 127.08,153.54 127.41,152.69 127.74,153.72 128.07,153.47 128.40,154.38 128.73,153.95 129.06,152.58 129.39,152.90 129.72,154.46 130.05,154.31 130.38,153.32 130.71,153.80 131.04,154.13 131.37,154.15 131.70,154.46 132.03,153.99 132.36,153.73 132.69,153.61 133.02,154.59 133.35,152.11 133.68,153.70 134.01,153.82 134.34,152.73 134.67,154.05 135.00,153.31 135.33,154.45 135.66,153.72 135.99,154.32 136.32,154.75 136.65,154.14 136.98,153.21 137.31,152.75 137.64,155.22 137.97,153.84 138.30,153.43 138.63,154.07 138.96,153.83 139.29,154.63 139.62,154.02 139.95,154.01 140.28,153.46 140.61,154.32 140.94,153.16 141.27,154.39 141.60,154.97 141.93,152.62 142.26,151.83 142.59,154.07 142.92,155.43 143.25,152.68 143.58,152.40 143.91,153.70 144.24,152.54 144.57,152.71 144.90,152.76 145.23,153.35 145.56,152.57 145.89,153.00 146.22,152.58 146.55,151.99 146.88,152.30 147.21,151.74 147.54,152.37 147.87,151.44 148.20,151.39 148.53,153.24 148.86,152.05 149.19,152.01 149.52,152.40 149.85,151.69 150.18,151.84 150.51,152.38 150.84,152.37 151.17,151.43 151.50,153.10 151.83,152.22 152.16,152.09 152.49,152.43 152.82,153.04 153.15,154.79 153.48,152.90 153.81,154.11 154.14,152.57 154.47,154.33 154.80,155.12 155.13,154.35 155.46,154.12 155.79,154.83 156.12,155.25 156.45,155.28 156.78,156.31 157.11,155.04 157.44,154.48 157.77,154.88 158.10,154.96 158.43,155.13 158.76,155.06 159.09,155.25 159.42,153.90 159.75,155.80 160.08,154.78 160.41,154.35 160.74,155.74 161.07,156.28 161.40,155.69 161.73,155.47 162.06,154.67 162.39,157.55 162.72,156.08 163.05,154.58 163.38,154.87 163.71,155.54 164.04,154.32 164.37,155.62 164.70,155.15 165.03,156.42 165.36,156.22 165.69,153.45 166.02,155.50 166.35,154.23 166.68,156.24 167.01,155.50 167.34,155.75 167.67,154.49 168.00,156.61 168.33,156.71 168.66,154.34 168.99,155.37 169.32,154.53 169.65,154.96 169.98,153.97 170.31,156.26 170.64,154.08 170.97,154.53 171.30,155.08 171.63,154.17 171.96,154.43 172.29,154.14 172.62,154.41 172.95,153.58 173.28,154.08 173.61,154.19 173.94,154.04 174.27,154.27 174.60,153.95 174.93,154.67 175.26,153.81 175.59,153.89 175.92,153.43 176.25,153.48 176.58,152.87 176.91,154.16 177.24,152.86 177.57,153.12 177.90,153.90 178.23,153.90 178.56,153.27 178.89,152.03 179.22,153.84 179.55,153.70 179.88,152.44 180.21,154.08 180.54,152.98 180.87,152.67 181.20,153.61 181.53,153.42 181.86,153.73 182.19,152.41 182.52,155.00 182.85,153.23 183.18,152.56 183.51,154.22 183.84,153.53 184.17,154.08 184.50,153.63 184.83,153.88 185.16,154.16 185.49,153.46 185.82,154.57 186.15,153.75 186.48,153.49 186.81,154.24 187.14,154.56 187.47,154.08 187.80,153.64 188.13,154.78 188.46,153.02 188.79,153.59 189.12,154.41 189.45,153.37 189.78,154.42 190.11,154.36 190.44,155.07 190.77,153.70 191.10,153.89 191.43,154.59 191.76,152.47 192.09,156.60 192.42,153.71 192.75,153.64 193.08,154.79 193.41,154.06 193.74,152.71 194.07,154.45 194.40,154.57 194.73,153.53 195.06,153.59 195.39,154.11 195.72,153.00 196.05,153.95 196.38,153.70 196.71,152.99 197.04,152.39 197.37,153.20 197.70,152.66 198.03,154.01 198.36,153.32 198.69,153.74 199.02,153.21 199.35,153.27 199.68,152.44 200.01,153.50 200.34,154.31 200.67,152.71 201.00,152.47 201.33,152.77 201.66,152.51 201.99,152.32 202.32,152.93 202.65,152.58 202.98,153.86 203.31,152.76 203.64,152.98 203.97,153.43 204.30,152.47 204.63,153.76 204.96,152.18 205.29,152.03 205.62,152.34 205.95,152.50 206.28,151.51 206.61,152.51 206.94,151.25 207.27,153.52 207.60,152.38 207.93,151.93 208.26,151.69 208.59,152.04 208.92,152.13 209.25,151.47 209.58,151.52 209.91,152.03 210.24,151.73 210.57,152.78 210.90,152.89 211.23,152.00 211.56,152.30 211.89,150.90 212.22,152.33 212.55,151.78 212.88,152.13 213.21,152.92 213.54,149.97 213.87,151.83 214.20,150.77 214.53,152.00 214.86,150.53 215.19,151.11 215.52,151.60 215.85,151.87 216.18,151.43 216.51,150.75 216.84,150.89 217.17,151.94 217.50,151.24 217.83,149.95 218.16,151.82 218.49,151.46 218.82,151.78 219.15,150.84 219.48,151.68 219.81,150.23 220.14,151.42 220.47,150.59 220.80,151.43 221.13,151.65 221.46,150.31 221.79,150.78 222.12,150.82 222.45,151.64 222.78,151.25 223.11,149.76 223.44,150.99 223.77,151.17 224.10,152.16 224.43,149.27 224.76,150.08 225.09,151.44 225.42,149.38 225.75,149.44 226.08,150.67 226.41,150.99 226.74,149.65 227.07,150.48 227.40,150.08 227.73,151.04 228.06,149.80 228.39,150.44 228.72,148.92 229.05,149.34 229.38,149.30 229.71,150.13 230.04,149.61 230.37,148.51 230.70,149.47 231.03,149.41 231.36,148.60 231.69,148.32 232.02,148.17 232.35,146.81 232.68,147.95 233.01,147.67 233.34,146.06 233.67,145.76 234.00,142.11 234.33,140.24 234.66,137.56 234.99,136.58 235.32,130.71 235.65,128.42 235.98,124.12 236.31,118.33 236.64,111.46 236.97,101.22 237.30,92.20 237.63,88.26 237.96,80.97 238.29,78.76 238.62,79.80 238.95,85.63 239.28,90.37 239.61,94.72 239.94,102.94 240.27,109.81 240.60,116.47 240.93,122.01 241.26,126.58 241.59,131.41 241.92,134.57 242.25,136.64 242.58,139.96 242.91,140.79 243.24,143.24 243.57,144.83 243.90,146.81 244.23,146.25 244.56,148.78 244.89,148.37 245.22,148.78 245.55,149.03 245.88,150.53 246.21,150.61 246.54,150.17 246.87,150.52 247.20,151.27 247.53,151.47 247.86,153.06 248.19,153.51 248.52,153.35 248.85,153.16 249.18,152.76 249.51,153.30 249.84,154.08 250.17,155.18 250.50,154.43 250.83,153.70 251.16,154.08 251.49,153.81 251.82,153.68 252.15,154.19 252.48,154.52 252.81,155.79 253.14,154.49 253.47,155.50 253.80,155.82 254.13,154.55 254.46,155.64 254.79,154.86 255.12,153.84 255.45,154.14 255.78,153.71 256.11,153.21 256.44,152.65 256.77,152.03 257.10,151.12 257.43,148.65 257.76,146.62 258.09,142.43 258.42,141.44 258.75,139.69 259.08,137.88 259.41,137.44 259.74,137.34 260.07,136.16 260.40,136.34 260.73,136.85 261.06,137.18 261.39,136.71 261.72,138.31 262.05,136.30 262.38,137.07 262.71,137.07 263.04,135.24 263.37,133.46 263.70,131.42 264.03,128.45 264.36,125.24 264.69,121.32 265.02,119.05 265.35,117.47 265.68,117.48 266.01,115.53 266.34,117.94 266.67,118.67 267.00,118.60 267.33,122.61 267.66,121.47 267.99,123.15 268.32,124.41 268.65,127.49 268.98,127.26 269.31,129.53 269.64,130.55 269.97,131.35 270.30,130.88 270.63,131.52 270.96,133.00 271.29,130.36 271.62,130.14 271.95,129.59 272.28,128.72 272.61,125.73 272.94,121.62 273.27,108.30 273.60,91.52 273.93,81.05 274.26,71.82 274.59,67.90 274.92,62.99 275.25,56.06 275.58,53.06 275.91,49.64 276.24,38.96 276.57,28.92 276.90,23.01 277.23,21.35 277.56,20.19 277.89,20.28 278.22,19.40 278.55,17.83 278.88,18.76 279.21,19.13 279.54,17.22 279.87,14.47 280.20,11.50 280.53,11.94 280.86,12.49 281.19,18.77 281.52,27.13 281.85,37.76 282.18,46.53 282.51,52.52 282.84,59.50 283.17,65.77 283.50,69.15 283.83,74.05 284.16,77.76 284.49,81.52 284.82,89.15 285.15,100.18 285.48,112.22 285.81,120.29 286.14,127.75 286.47,133.38 286.80,133.84 287.13,133.31 287.46,130.31 287.79,126.71 288.12,122.51 288.45,119.60 288.78,115.87 289.11,114.10 289.44,110.46 289.77,107.25 290.10,107.42 290.43,107.21 290.76,105.34 291.09,104.99 291.42,104.42 291.75,103.38 292.08,104.28 292.41,105.70 292.74,107.69 293.07,109.69 293.40,112.62 293.73,114.74 294.06,118.09 294.39,119.12 294.72,120.61 295.05,123.47 295.38,123.75 295.71,123.93 296.04,126.64 296.37,128.91 296.70,127.85 297.03,131.14 297.36,132.36 297.69,132.71 298.02,133.79 298.35,135.65 298.68,136.65 299.01,139.03 299.34,139.37 299.67,138.87 300.00,140.36 300.33,142.46 300.66,144.27 300.99,144.03 301.32,144.85 301.65,146.86 301.98,146.26 302.31,146.82 302.64,146.71 302.97,148.06 303.30,150.73 303.63,148.70 303.96,150.46 304.29,150.04 304.62,151.80 304.95,152.91 305.28,152.50 305.61,153.55 305.94,153.73 306.27,153.59 306.60,154.61 306.93,153.96 307.26,153.20 307.59,152.97 307.92,152.90 308.25,153.93 308.58,153.37 308.91,155.69 309.24,155.06 309.57,153.55 309.90,153.48 310.23,155.02 310.56,152.36 310.89,153.44 311.22,154.50 311.55,153.11 311.88,153.44 312.21,153.54 312.54,154.29 312.87,153.90 313.20,154.09 313.53,154.23 313.86,153.80 314.19,154.60 314.52,153.22 314.85,152.68 315.18,152.41 315.51,152.51 315.84,153.30 316.17,154.48 316.50,153.82 316.83,153.22 317.16,152.86 317.49,153.24 317.82,153.32 318.15,153.18 318.48,152.51 318.81,153.21 319.14,154.31 319.47,151.90 319.80,153.33 320.13,151.90 320.46,153.61 320.79,152.88 321.12,151.85 321.45,153.46 321.78,154.71 322.11,153.39 322.44,154.13 322.77,153.17 323.10,151.55 323.43,153.49 323.76,152.76 324.09,151.92 324.42,153.55 324.75,153.12 325.08,152.46 325.41,153.44 325.74,152.08 326.07,153.15 326.40,151.90 326.73,152.95 327.06,151.66 327.39,153.54 327.72,152.55 328.05,153.36 328.38,151.60 328.71,151.77 329.04,152.66 329.37,149.86 329.70,151.01 330.03,152.47 330.36,151.93 330.69,152.20 331.02,151.13 331.35,151.68 331.68,150.63 332.01,150.07 332.34,149.78 332.67,150.60 333.00,150.59 333.33,150.55 333.66,148.42 333.99,149.68 334.32,150.91 334.65,151.67 334.98,151.19 335.31,151.14 335.64,150.24 335.97,153.67 336.30,151.49 336.63,153.73 336.96,153.77 337.29,152.91 337.62,152.34 337.95,152.90 338.28,151.93 338.61,152.96 338.94,152.72 339.27,153.06 339.60,153.30 339.93,153.80 340.26,152.12 340.59,153.08 340.92,151.60 341.25,151.40 341.58,151.49 341.91,151.10 342.24,152.43 342.57,152.20 342.90,152.22 343.23,150.97 343.56,150.89 343.89,149.92 344.22,149.14 344.55,150.00 344.88,149.52 345.21,148.16 345.54,149.13 345.87,147.11 346.20,148.04 346.53,147.52 346.86,147.47 347.19,146.99 347.52,148.53 347.85,148.33 348.18,148.95 348.51,148.37 348.84,147.55 349.17,148.53 349.50,148.25 349.83,149.81 350.16,150.73 350.49,150.41 350.82,150.06 351.15,150.55 351.48,151.27 351.81,150.28 352.14,151.69 352.47,151.94 352.80,151.60 353.13,151.92 353.46,152.58 353.79,152.05 354.12,152.24 354.45,153.63 354.78,153.37 355.11,154.58 355.44,152.68 355.77,152.14 356.10,154.19 356.43,154.20 356.76,152.93 357.09,152.38 357.42,153.44 357.75,152.16 358.08,153.21 358.41,151.82 358.74,153.27 359.07,151.85 359.40,153.26 359.73,154.57 360.06,153.22 360.39,153.99 360.72,152.92 361.05,152.73 361.38,152.26 361.71,154.16 362.04,153.32 362.37,154.57 362.70,152.46 363.03,153.16 363.36,153.38 363.69,154.37 364.02,154.66 364.35,152.80 364.68,152.43 365.01,151.96 365.34,154.25 365.67,153.17 366.00,152.74 366.33,153.17 366.66,151.28 366.99,151.89 367.32,153.87 367.65,153.44 367.98,153.24 368.31,152.36 368.64,153.53 368.97,154.41 369.30,152.13 369.63,153.04 369.96,152.68 370.29,153.26 370.62,152.97 370.95,152.83 371.28,152.26 371.61,152.88 371.94,152.41 372.27,152.74 372.60,152.77 372.93,153.29 373.26,152.33" fill="none" stroke="#ff8a12" stroke-width="1.15" stroke-linejoin="round"/>
<text x="159.34" y="142.0" font-size="11.4" textLength="48.45" lengthAdjust="spacingAndGlyphs" style="stroke-width:0.35px">rice straw</text>
<text x="159.11" y="177.9" font-size="11.4" textLength="49.13" lengthAdjust="spacingAndGlyphs" style="stroke-width:0.35px">Mix-6M-C</text>
<text x="159.09" y="209.0" font-size="11.4" textLength="47.16" lengthAdjust="spacingAndGlyphs" style="stroke-width:0.35px">Mix-1Y-C</text>
<text x="4.41" y="278.7" font-size="16" textLength="22.46" lengthAdjust="spacingAndGlyphs" style="stroke-width:0.2px">(B)</text>
<rect x="28" y="288.1" width="403.3" height="1.9" fill="#1e1e1e"/>
<rect x="109.2" y="307.3" width="322.1" height="1.4" fill="#222"/>
<rect x="28" y="339.6" width="403.3" height="1.7" fill="#222"/>
<rect x="28" y="392.9" width="403.3" height="1.8" fill="#404040"/>
<text x="208.79" y="303.1" font-size="11.7" textLength="122.88" lengthAdjust="spacingAndGlyphs">Relative abundance [%]</text>
<text x="43.95" y="319.3" font-size="11.7" textLength="49.30" lengthAdjust="spacingAndGlyphs">Materials</text>
<text x="127.27" y="320.5" font-size="11.7" textLength="26.24" lengthAdjust="spacingAndGlyphs">0–45</text>
<text x="128.80" y="336.6" font-size="11.7" textLength="23.44" lengthAdjust="spacingAndGlyphs">ppm</text>
<text x="187.19" y="320.5" font-size="11.7" textLength="32.52" lengthAdjust="spacingAndGlyphs">45–60</text>
<text x="190.95" y="336.6" font-size="11.7" textLength="24.83" lengthAdjust="spacingAndGlyphs">ppm</text>
<text x="248.50" y="320.5" font-size="11.7" textLength="40.63" lengthAdjust="spacingAndGlyphs">60–110</text>
<text x="257.06" y="336.6" font-size="11.7" textLength="24.72" lengthAdjust="spacingAndGlyphs">ppm</text>
<text x="309.86" y="320.5" font-size="11.7" textLength="46.66" lengthAdjust="spacingAndGlyphs">110–160</text>
<text x="320.33" y="336.6" font-size="11.7" textLength="25.68" lengthAdjust="spacingAndGlyphs">ppm</text>
<text x="375.18" y="320.5" font-size="11.7" textLength="46.73" lengthAdjust="spacingAndGlyphs">160–210</text>
<text x="385.84" y="336.6" font-size="11.7" textLength="25.26" lengthAdjust="spacingAndGlyphs">ppm</text>
<text x="42.01" y="354.0" font-size="11.7" textLength="53.08" lengthAdjust="spacingAndGlyphs">Rice straw</text>
<text x="140.4" y="354.0" font-size="11.7" text-anchor="middle">2.5</text>
<text x="203.3" y="354.0" font-size="11.7" text-anchor="middle">4.0</text>
<text x="269.0" y="354.0" font-size="11.7" text-anchor="middle">89.4</text>
<text x="333.4" y="354.0" font-size="11.7" text-anchor="middle">3.6</text>
<text x="398.6" y="354.0" font-size="11.7" text-anchor="middle">0.5</text>
<text x="42.76" y="372.5" font-size="11.7" textLength="51.80" lengthAdjust="spacingAndGlyphs">Mix-6M-C</text>
<text x="140.4" y="372.5" font-size="11.7" text-anchor="middle">8.4</text>
<text x="203.3" y="372.5" font-size="11.7" text-anchor="middle">7.8</text>
<text x="269.0" y="372.5" font-size="11.7" text-anchor="middle">74.7</text>
<text x="333.4" y="372.5" font-size="11.7" text-anchor="middle">6.0</text>
<text x="398.6" y="372.5" font-size="11.7" text-anchor="middle">3.1</text>
<text x="44.57" y="390.3" font-size="11.7" textLength="48.19" lengthAdjust="spacingAndGlyphs">Mix-1Y-C</text>
<text x="140.4" y="390.3" font-size="11.7" text-anchor="middle">14.1</text>
<text x="203.3" y="390.3" font-size="11.7" text-anchor="middle">12.0</text>
<text x="269.0" y="390.3" font-size="11.7" text-anchor="middle">71.1</text>
<text x="333.4" y="390.3" font-size="11.7" text-anchor="middle">UDL</text>
<text x="398.6" y="390.3" font-size="11.7" text-anchor="middle">2.8</text>
<text x="4.42" y="424.7" font-size="16" textLength="23.04" lengthAdjust="spacingAndGlyphs" style="stroke-width:0.2px">(C)</text>
<rect x="28" y="438.5" width="403.3" height="1.9" fill="#1e1e1e"/>
<rect x="99.2" y="457.2" width="332.1" height="1.4" fill="#222"/>
<rect x="28" y="489.9" width="403.3" height="1.9" fill="#444"/>
<rect x="28" y="545.9" width="403.3" height="2.0" fill="#4a4a4a"/>
<text x="158.27" y="453.4" font-size="11.2" textLength="158.08" lengthAdjust="spacingAndGlyphs">Quantitative carbon content [%]</text>
<text x="40.10" y="469.8" font-size="11.2" textLength="46.73" lengthAdjust="spacingAndGlyphs">Materials</text>
<text x="114.28" y="470.5" font-size="11.2" textLength="25.21" lengthAdjust="spacingAndGlyphs">0–45</text>
<text x="115.42" y="486.6" font-size="11.2" textLength="22.80" lengthAdjust="spacingAndGlyphs">ppm</text>
<text x="166.40" y="470.5" font-size="11.2" textLength="30.88" lengthAdjust="spacingAndGlyphs">45–60</text>
<text x="169.99" y="486.6" font-size="11.2" textLength="23.76" lengthAdjust="spacingAndGlyphs">ppm</text>
<text x="218.54" y="470.5" font-size="11.2" textLength="37.65" lengthAdjust="spacingAndGlyphs">60–110</text>
<text x="227.16" y="486.6" font-size="11.2" textLength="21.31" lengthAdjust="spacingAndGlyphs">ppm</text>
<text x="270.31" y="470.5" font-size="11.2" textLength="44.39" lengthAdjust="spacingAndGlyphs">110–160</text>
<text x="280.69" y="486.6" font-size="11.2" textLength="23.76" lengthAdjust="spacingAndGlyphs">ppm</text>
<text x="325.22" y="470.5" font-size="11.2" textLength="44.27" lengthAdjust="spacingAndGlyphs">160–210</text>
<text x="336.96" y="486.6" font-size="11.2" textLength="21.31" lengthAdjust="spacingAndGlyphs">ppm</text>
<text x="392.30" y="470.3" font-size="11.2" textLength="22.85" lengthAdjust="spacingAndGlyphs">Total</text>
<text x="38.50" y="504.3" font-size="11.2" textLength="50.06" lengthAdjust="spacingAndGlyphs">Mix-0M-C</text>
<text x="126.8" y="504.3" font-size="11.2" text-anchor="middle">2.5</text>
<text x="181.8" y="504.3" font-size="11.2" text-anchor="middle">4.0</text>
<text x="237.6" y="504.3" font-size="11.2" text-anchor="middle">89.4</text>
<text x="292.6" y="504.3" font-size="11.2" text-anchor="middle">3.6</text>
<text x="347.5" y="504.3" font-size="11.2" text-anchor="middle">0.5</text>
<text x="403.5" y="503.0" font-size="11.2" text-anchor="middle">100</text>
<text x="38.50" y="522.4" font-size="11.2" textLength="49.75" lengthAdjust="spacingAndGlyphs">Mix-6M-C</text>
<text x="126.8" y="522.4" font-size="11.2" text-anchor="middle">4.1</text>
<text x="181.8" y="522.4" font-size="11.2" text-anchor="middle">3.8</text>
<text x="237.6" y="522.4" font-size="11.2" text-anchor="middle">36.3</text>
<text x="292.6" y="522.4" font-size="11.2" text-anchor="middle">2.9</text>
<text x="347.5" y="522.4" font-size="11.2" text-anchor="middle">1.5</text>
<text x="403.5" y="521.1" font-size="11.2" text-anchor="middle">48.6</text>
<text x="41.03" y="540.8" font-size="11.2" textLength="45.41" lengthAdjust="spacingAndGlyphs">Mix-1Y-C</text>
<text x="126.8" y="540.8" font-size="11.2" text-anchor="middle">5.5</text>
<text x="181.8" y="540.8" font-size="11.2" text-anchor="middle">4.7</text>
<text x="237.6" y="540.8" font-size="11.2" text-anchor="middle">27.7</text>
<text x="292.6" y="540.8" font-size="11.2" text-anchor="middle">UDL</text>
<text x="347.5" y="540.8" font-size="11.2" text-anchor="middle">1.1</text>
<text x="403.5" y="539.5" font-size="11.2" text-anchor="middle">38.9</text>
</svg>
</body></html>
